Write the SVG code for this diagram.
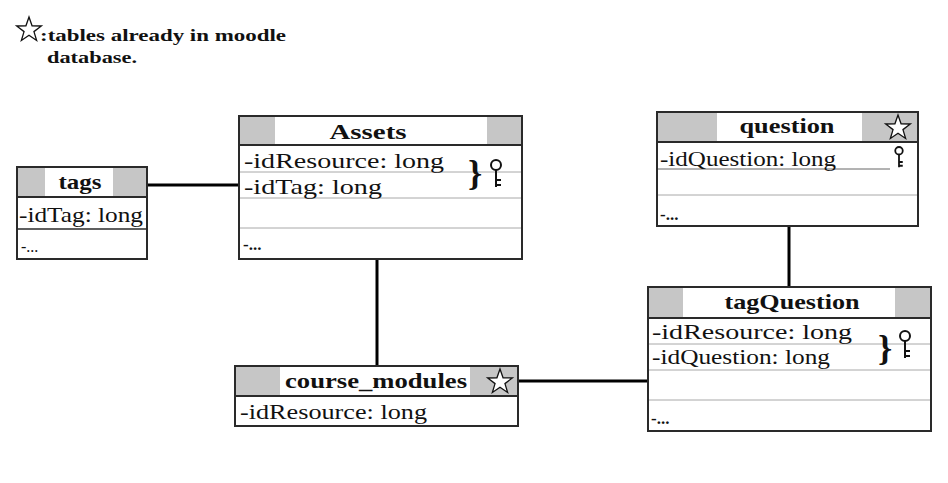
<svg xmlns="http://www.w3.org/2000/svg" width="948" height="483" viewBox="0 0 948 483">
<style>
.box{fill:#fff;stroke:#2a2a2a;stroke-width:2}
.hdr{fill:#c6c6c6}
.hline{stroke:#2a2a2a;stroke-width:2}
.sep{stroke:#a8a8a8;stroke-width:1}
text{font-family:'Liberation Serif','Times New Roman',Times,'Nimbus Roman',serif;fill:#111}
.title{font-weight:bold;font-size:22px;text-anchor:middle}
.attr{font-size:22px}
.more{font-weight:bold;font-size:17px}
.brace{font-weight:bold;font-size:36px}
.legend{font-weight:bold;font-size:17px}
.conn{stroke:#000;stroke-width:3;fill:none}
.star{fill:#fff;stroke:#111;stroke-width:1.3;stroke-linejoin:miter}
.key{fill:none;stroke:#111;stroke-width:2}
</style>
<defs>
<polygon id="star" points="0,-13 3.06,-4.21 12.36,-4.02 4.95,1.61 7.64,10.52 0,5.2 -7.64,10.52 -4.95,1.61 -12.36,-4.02 -3.06,-4.21"/>
<g id="key">
<circle cx="0" cy="5" r="5"/>
<path d="M0,10 V27 M0,20 H5 M0,25 H5"/>
</g>
</defs>

<g id="legend">
<use href="#star" class="star" transform="translate(29,30)"/>
<text class="legend" x="40" y="41" textLength="246" lengthAdjust="spacingAndGlyphs">:tables already in moodle</text>
<text class="legend" x="47" y="63" textLength="90" lengthAdjust="spacingAndGlyphs">database.</text>
</g>

<g id="connectors">
<line class="conn" x1="147" y1="185" x2="239" y2="185"/>
<line class="conn" x1="377" y1="259" x2="377" y2="366"/>
<line class="conn" x1="789" y1="226" x2="789" y2="287"/>
<line class="conn" x1="518" y1="381" x2="648" y2="381"/>
</g>

<g id="tags">
<rect class="box" x="17" y="167" width="130" height="92"/>
<rect class="hdr" x="18" y="168" width="27" height="29"/>
<rect class="hdr" x="113" y="168" width="33" height="29"/>
<line class="hline" x1="17" y1="197" x2="147" y2="197"/>
<line class="hline" x1="17" y1="229" x2="147" y2="229" style="stroke-width:1.5"/>
<text class="title" x="80" y="189" textLength="43" lengthAdjust="spacingAndGlyphs">tags</text>
<text class="attr" x="19" y="222" textLength="124" lengthAdjust="spacingAndGlyphs">-idTag: long</text>
<text class="attr" x="21" y="252" style="font-size:16px">-...</text>
</g>

<g id="assets">
<rect class="box" x="239" y="116" width="283" height="143"/>
<rect class="hdr" x="240" y="117" width="35" height="28"/>
<rect class="hdr" x="487" y="117" width="34" height="28"/>
<line class="hline" x1="239" y1="145" x2="522" y2="145"/>
<line class="sep" x1="240" y1="172" x2="521" y2="172"/>
<line class="sep" x1="240" y1="198" x2="521" y2="198"/>
<line class="sep" x1="240" y1="228" x2="521" y2="228"/>
<text class="title" x="368" y="139" textLength="77" lengthAdjust="spacingAndGlyphs">Assets</text>
<text class="attr" x="244" y="168" textLength="200" lengthAdjust="spacingAndGlyphs">-idResource: long</text>
<text class="attr" x="244" y="194" textLength="138" lengthAdjust="spacingAndGlyphs">-idTag: long</text>
<text class="more" x="243" y="250">-...</text>
<text class="brace" x="468" y="185">}</text>
<use href="#key" class="key" transform="translate(496,160)"/>
</g>

<g id="question">
<rect class="box" x="657" y="112" width="261" height="114"/>
<rect class="hdr" x="658" y="113" width="59" height="29"/>
<rect class="hdr" x="862" y="113" width="55" height="29"/>
<line class="hline" x1="657" y1="142" x2="918" y2="142"/>
<line class="sep" x1="658" y1="169" x2="890" y2="169" style="stroke:#666"/>
<line class="sep" x1="658" y1="195" x2="917" y2="195"/>
<text class="title" x="787" y="133" textLength="95" lengthAdjust="spacingAndGlyphs">question</text>
<use href="#star" class="star" transform="translate(898,128)"/>
<text class="attr" x="660" y="166" textLength="176" lengthAdjust="spacingAndGlyphs">-idQuestion: long</text>
<text class="more" x="660" y="220">-...</text>
<use href="#key" class="key" transform="translate(899,147) scale(0.75)" style="stroke-width:2.4"/>
</g>

<g id="tagQuestion">
<rect class="box" x="648" y="287" width="283" height="144"/>
<rect class="hdr" x="649" y="288" width="34" height="30"/>
<rect class="hdr" x="895" y="288" width="35" height="30"/>
<line class="hline" x1="648" y1="318" x2="931" y2="318"/>
<line class="sep" x1="649" y1="344" x2="930" y2="344"/>
<line class="sep" x1="649" y1="370" x2="930" y2="370"/>
<line class="sep" x1="649" y1="400" x2="930" y2="400"/>
<text class="title" x="792" y="309" textLength="135" lengthAdjust="spacingAndGlyphs">tagQuestion</text>
<text class="attr" x="652" y="339" textLength="200" lengthAdjust="spacingAndGlyphs">-idResource: long</text>
<text class="attr" x="652" y="364" textLength="178" lengthAdjust="spacingAndGlyphs">-idQuestion: long</text>
<text class="more" x="651" y="424">-...</text>
<text class="brace" x="878" y="360">}</text>
<use href="#key" class="key" transform="translate(905,331)"/>
</g>

<g id="course_modules">
<rect class="box" x="235" y="366" width="283" height="60"/>
<rect class="hdr" x="236" y="367" width="44" height="29"/>
<rect class="hdr" x="470" y="367" width="47" height="29"/>
<line class="hline" x1="235" y1="396" x2="518" y2="396"/>
<text class="title" x="376" y="388" textLength="182" lengthAdjust="spacingAndGlyphs">course_modules</text>
<use href="#star" class="star" transform="translate(500,382)"/>
<text class="attr" x="240" y="419" textLength="187" lengthAdjust="spacingAndGlyphs">-idResource: long</text>
</g>
</svg>
